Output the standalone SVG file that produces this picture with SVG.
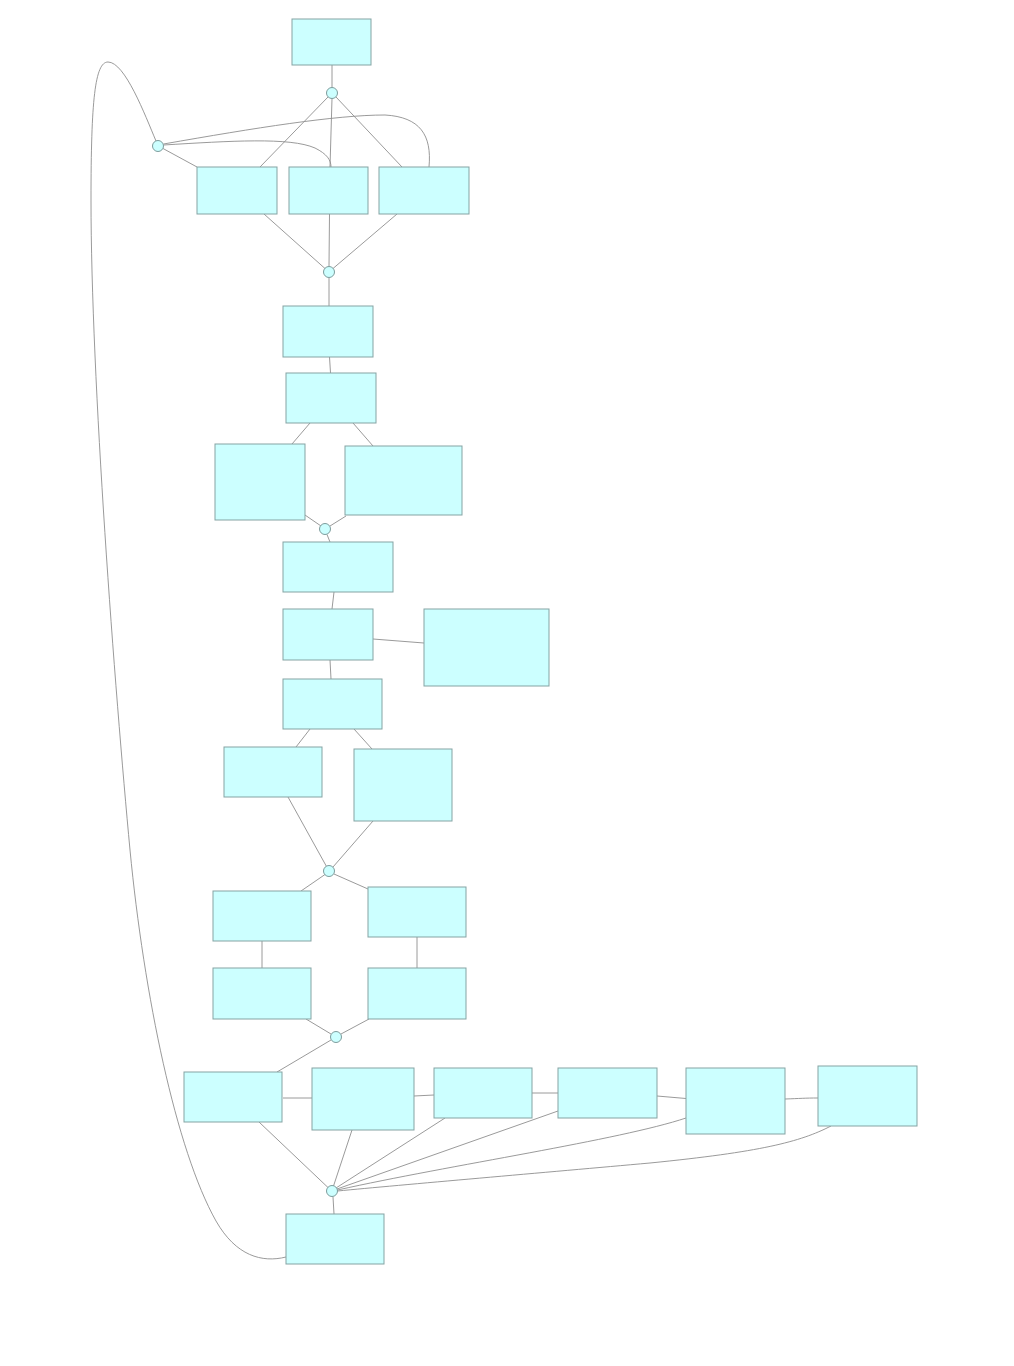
<svg xmlns="http://www.w3.org/2000/svg" width="1014" height="1366" viewBox="0 0 1014 1366">
<style>
.n{fill:#ccffff;stroke:#85a3a3;stroke-width:1}
.j{fill:#ccffff;stroke:#7d9c9c;stroke-width:1}
.e path{fill:none;stroke:#8f8f8f;stroke-width:0.9}
</style>
<rect width="1014" height="1366" fill="#ffffff"/>
<g class="e" id="connectors">
<path d="M332,65 L332,87.5"/>
<path d="M328,97 L260,167"/>
<path d="M332,98.5 L330,167"/>
<path d="M336,97 L402,167"/>
<path d="M163,148.5 L197,167"/>
<path d="M163.5,145 C 230,141 290,137 315,148 C 327,154 331,160 331,167"/>
<path d="M163.5,144 C 255,128 335,115 385,115 C 420,117 432,135 429,167"/>
<path d="M156,141 C 145,115 125,62 108,62 C 95,62 91,100 91,200 C 91,380 115,690 130,850 C 144,995 176,1150 216,1221 C 236,1256 262,1263 286,1257"/>
<path d="M264,214 L325,268.5"/>
<path d="M329.5,214 L329,266.5"/>
<path d="M397,214 L333,268.5"/>
<path d="M329,278 L329,306"/>
<path d="M329.5,357 L330.5,373"/>
<path d="M310,423 L292,444"/>
<path d="M353,423 L373,446"/>
<path d="M305,515 L321,526"/>
<path d="M346,516 L330,526"/>
<path d="M327,534.5 L330,542"/>
<path d="M334,592 L332,609"/>
<path d="M373,639 L424,643"/>
<path d="M330,660 L331,679"/>
<path d="M310,729 L296,747"/>
<path d="M354,729 L372,749"/>
<path d="M288,797 L326.5,866.5"/>
<path d="M373,821 L333,867"/>
<path d="M325,874.5 L301,891"/>
<path d="M334,874 L368,889"/>
<path d="M262,941 L262,968"/>
<path d="M417,937 L417,968"/>
<path d="M306,1019 L331,1034"/>
<path d="M369,1019 L341,1034"/>
<path d="M331,1040 L277,1072"/>
<path d="M283,1098 L312,1098"/>
<path d="M414,1096 L434,1095"/>
<path d="M532,1093 L558,1093"/>
<path d="M657,1096 L686,1098.5"/>
<path d="M785,1099 C 800,1098.5 805,1098 818,1098"/>
<path d="M259,1122 L328,1187.5"/>
<path d="M352,1130 L333.5,1186"/>
<path d="M445,1118 L336,1188"/>
<path d="M558,1111 L337,1189"/>
<path d="M686,1118 C 620,1140 450,1165 337.5,1190"/>
<path d="M831,1126 C 800,1142 760,1152 650,1163 C 550,1172 400,1185 337.5,1191"/>
<path d="M333,1197 L334,1214"/>
</g>
<g id="nA"><rect class="n" x="292" y="19" width="79" height="46"/></g>
<g id="j1"><circle class="j" cx="332" cy="93" r="5.5"/></g>
<g id="j2"><circle class="j" cx="158" cy="146" r="5.5"/></g>
<g id="nB1"><rect class="n" x="197" y="167" width="80" height="47"/></g>
<g id="nB2"><rect class="n" x="289" y="167" width="79" height="47"/></g>
<g id="nB3"><rect class="n" x="379" y="167" width="90" height="47"/></g>
<g id="j3"><circle class="j" cx="329" cy="272" r="5.5"/></g>
<g id="nC"><rect class="n" x="283" y="306" width="90" height="51"/></g>
<g id="nD"><rect class="n" x="286" y="373" width="90" height="50"/></g>
<g id="nE1"><rect class="n" x="215" y="444" width="90" height="76"/></g>
<g id="nE2"><rect class="n" x="345" y="446" width="117" height="69"/></g>
<g id="j4"><circle class="j" cx="325" cy="529" r="5.5"/></g>
<g id="nF"><rect class="n" x="283" y="542" width="110" height="50"/></g>
<g id="nG"><rect class="n" x="283" y="609" width="90" height="51"/></g>
<g id="nG2"><rect class="n" x="424" y="609" width="125" height="77"/></g>
<g id="nH"><rect class="n" x="283" y="679" width="99" height="50"/></g>
<g id="nI1"><rect class="n" x="224" y="747" width="98" height="50"/></g>
<g id="nI2"><rect class="n" x="354" y="749" width="98" height="72"/></g>
<g id="j5"><circle class="j" cx="329" cy="871" r="5.5"/></g>
<g id="nK1"><rect class="n" x="213" y="891" width="98" height="50"/></g>
<g id="nK2"><rect class="n" x="368" y="887" width="98" height="50"/></g>
<g id="nL1"><rect class="n" x="213" y="968" width="98" height="51"/></g>
<g id="nL2"><rect class="n" x="368" y="968" width="98" height="51"/></g>
<g id="j6"><circle class="j" cx="336" cy="1037" r="5.5"/></g>
<g id="nM1"><rect class="n" x="184" y="1072" width="98" height="50"/></g>
<g id="nM2"><rect class="n" x="312" y="1068" width="102" height="62"/></g>
<g id="nM3"><rect class="n" x="434" y="1068" width="98" height="50"/></g>
<g id="nM4"><rect class="n" x="558" y="1068" width="99" height="50"/></g>
<g id="nM5"><rect class="n" x="686" y="1068" width="99" height="66"/></g>
<g id="nM6"><rect class="n" x="818" y="1066" width="99" height="60"/></g>
<g id="j7"><circle class="j" cx="332" cy="1191" r="5.5"/></g>
<g id="nN"><rect class="n" x="286" y="1214" width="98" height="50"/></g>
</svg>
